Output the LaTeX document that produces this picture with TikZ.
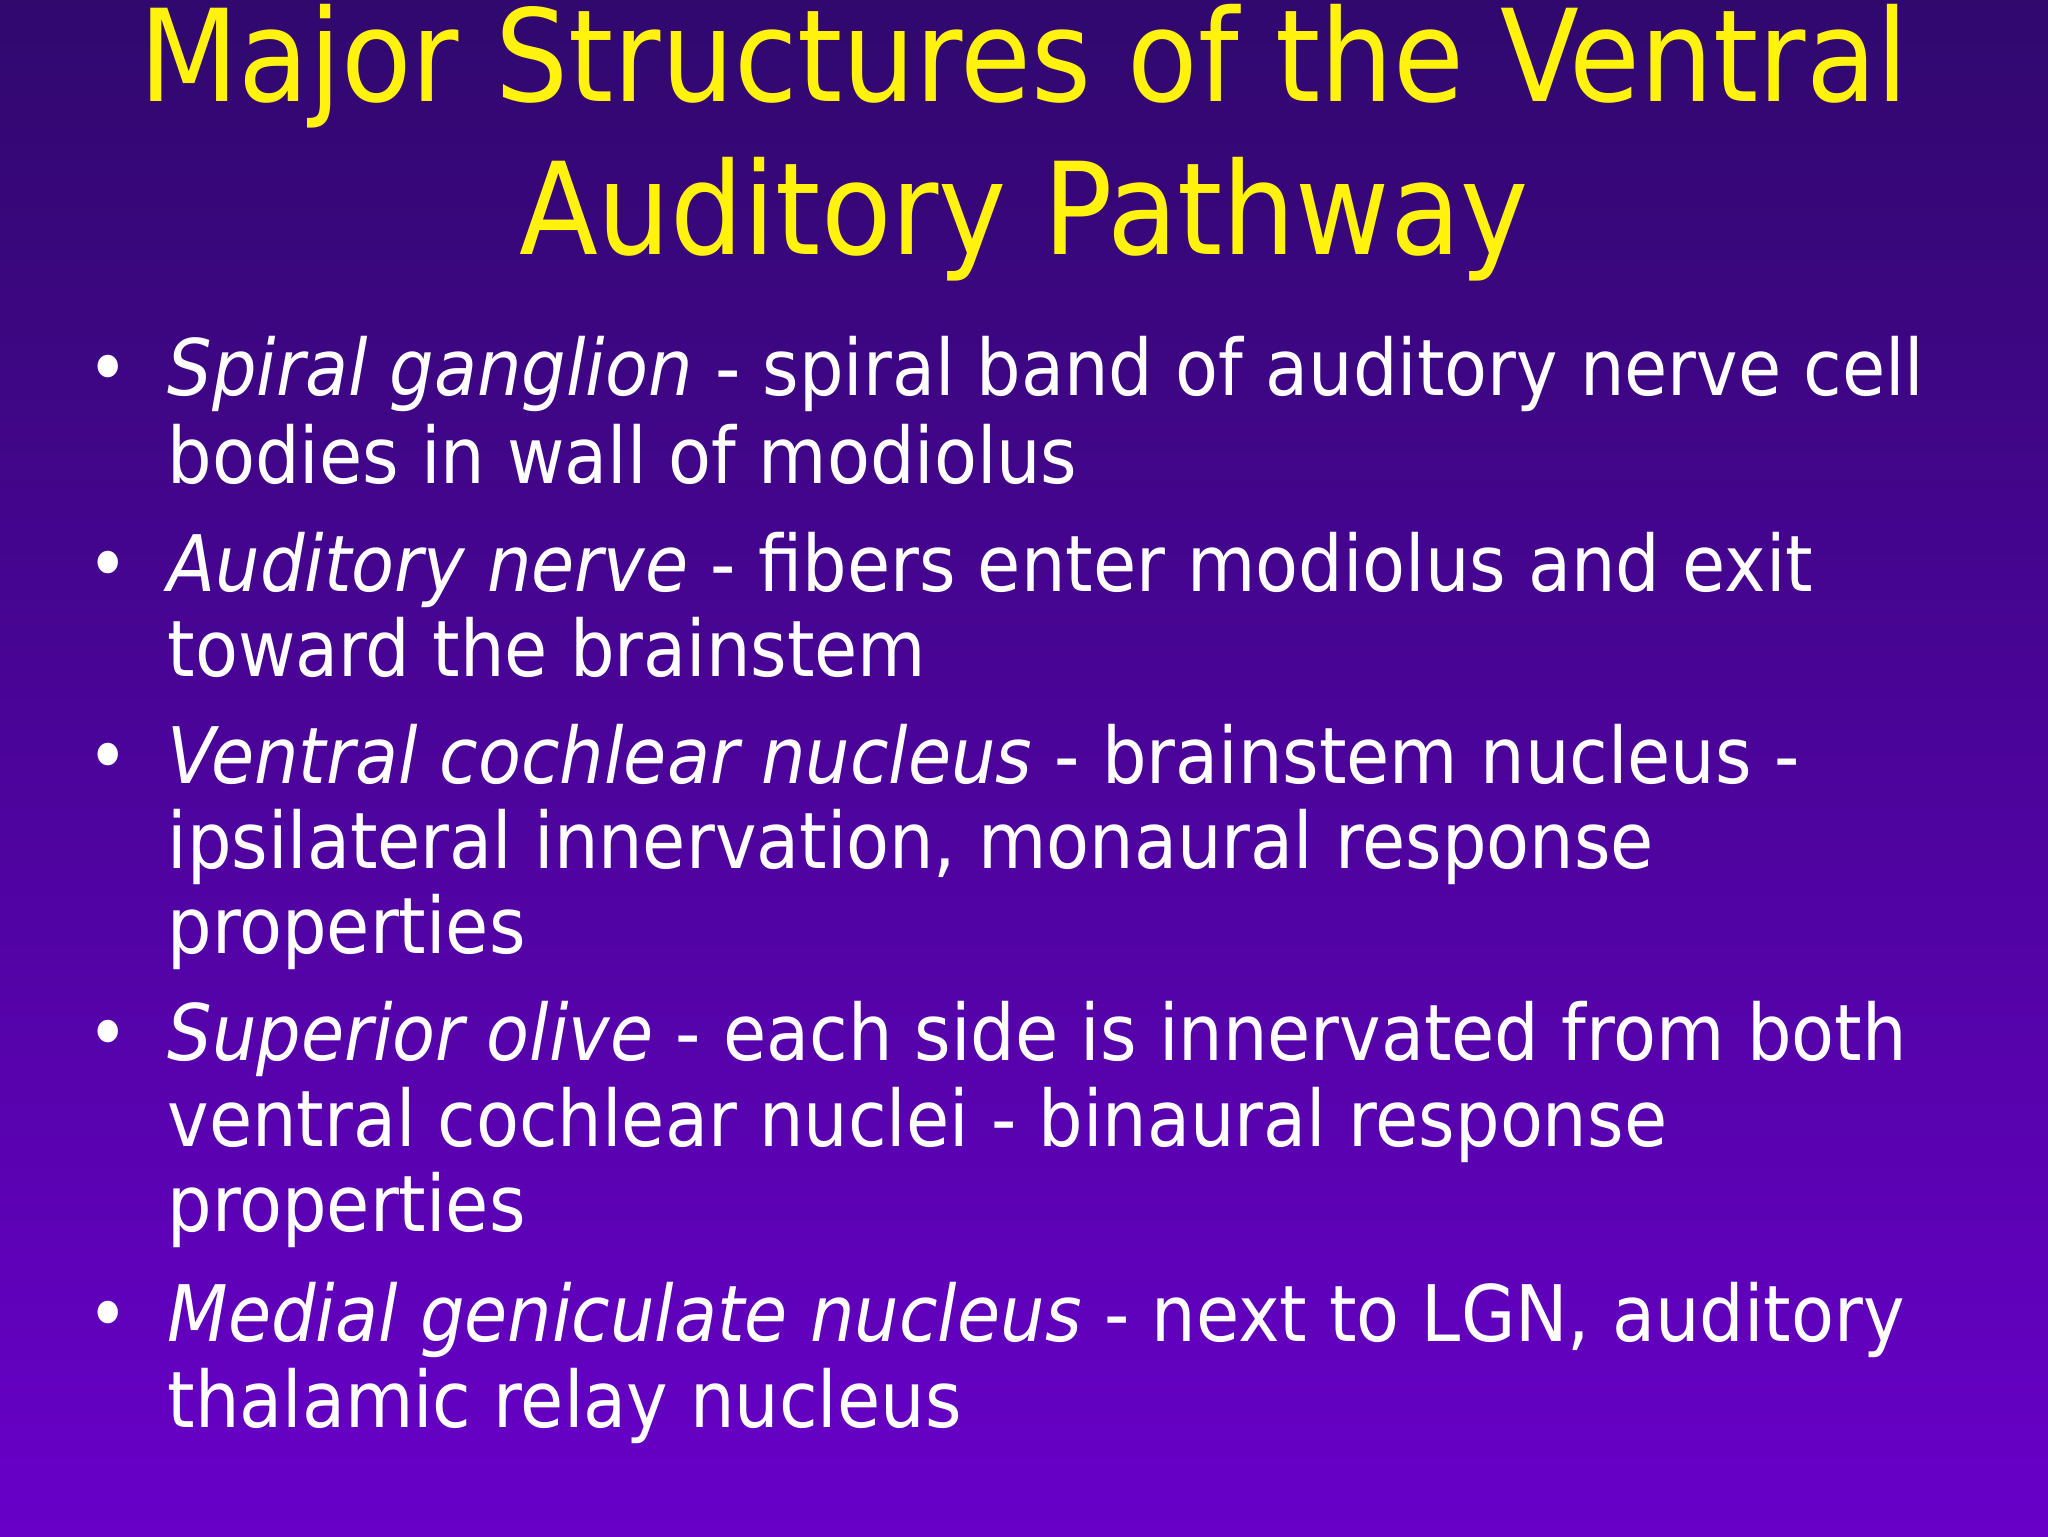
\documentclass[tikz,border=0pt]{standalone}
\usepackage{fontspec}
\setmainfont{DejaVu Sans Condensed}
\begin{document}
\begin{tikzpicture}[x=1pt,y=1pt,
  ttl/.style={anchor=base,text=yellow!95!white,font=\fontsize{64}{70}\selectfont,inner sep=0},
  ln/.style={anchor=base west,text=white,font=\fontsize{39}{44}\selectfont,inner sep=0},
  bul/.style={anchor=base,text=white,font=\fontsize{39}{44}\selectfont,inner sep=0}]
\shade[top color={rgb,255:red,48;green,8;blue,110},bottom color={rgb,255:red,104;green,0;blue,200}] (0,0) rectangle (1024,-768);
\useasboundingbox (0,0) rectangle (1024,-768);
\node[ttl] (t1) at (512,-51) {Major Structures of the Ventral};
\node[ttl] (t2) at (512,-127) {Auditory Pathway};
\foreach \y/\n in {303/b1,453/b2,600/b3,812/b4,1027/b5}{\node[bul] (\n) at (54,-\y*0.653) {•};}
\node[ln] (l1) at (83.6,-303*0.653) {\textit{Spiral ganglion} - spiral band of auditory nerve cell};
\node[ln] (l2) at (83.6,-370*0.653) {bodies in wall of modiolus};
\node[ln] (l3) at (83.6,-453*0.653) {\textit{Auditory nerve} - fibers enter modiolus and exit};
\node[ln] (l4) at (83.6,-518*0.653) {toward the brainstem};
\node[ln] (l5) at (83.6,-600*0.653) {\textit{Ventral cochlear nucleus} - brainstem nucleus -};
\node[ln] (l6) at (83.6,-665*0.653) {ipsilateral innervation, monaural response};
\node[ln] (l7) at (83.6,-730*0.653) {properties};
\node[ln] (l8) at (83.6,-812*0.653) {\textit{Superior olive} - each side is innervated from both};
\node[ln] (l9) at (83.6,-878*0.653) {ventral cochlear nuclei - binaural response};
\node[ln] (l10) at (83.6,-943*0.653) {properties};
\node[ln] (l11) at (83.6,-1027*0.653) {\textit{Medial geniculate nucleus} - next to LGN, auditory};
\node[ln] (l12) at (83.6,-1093*0.653) {thalamic relay nucleus};
\end{tikzpicture}
\end{document}
